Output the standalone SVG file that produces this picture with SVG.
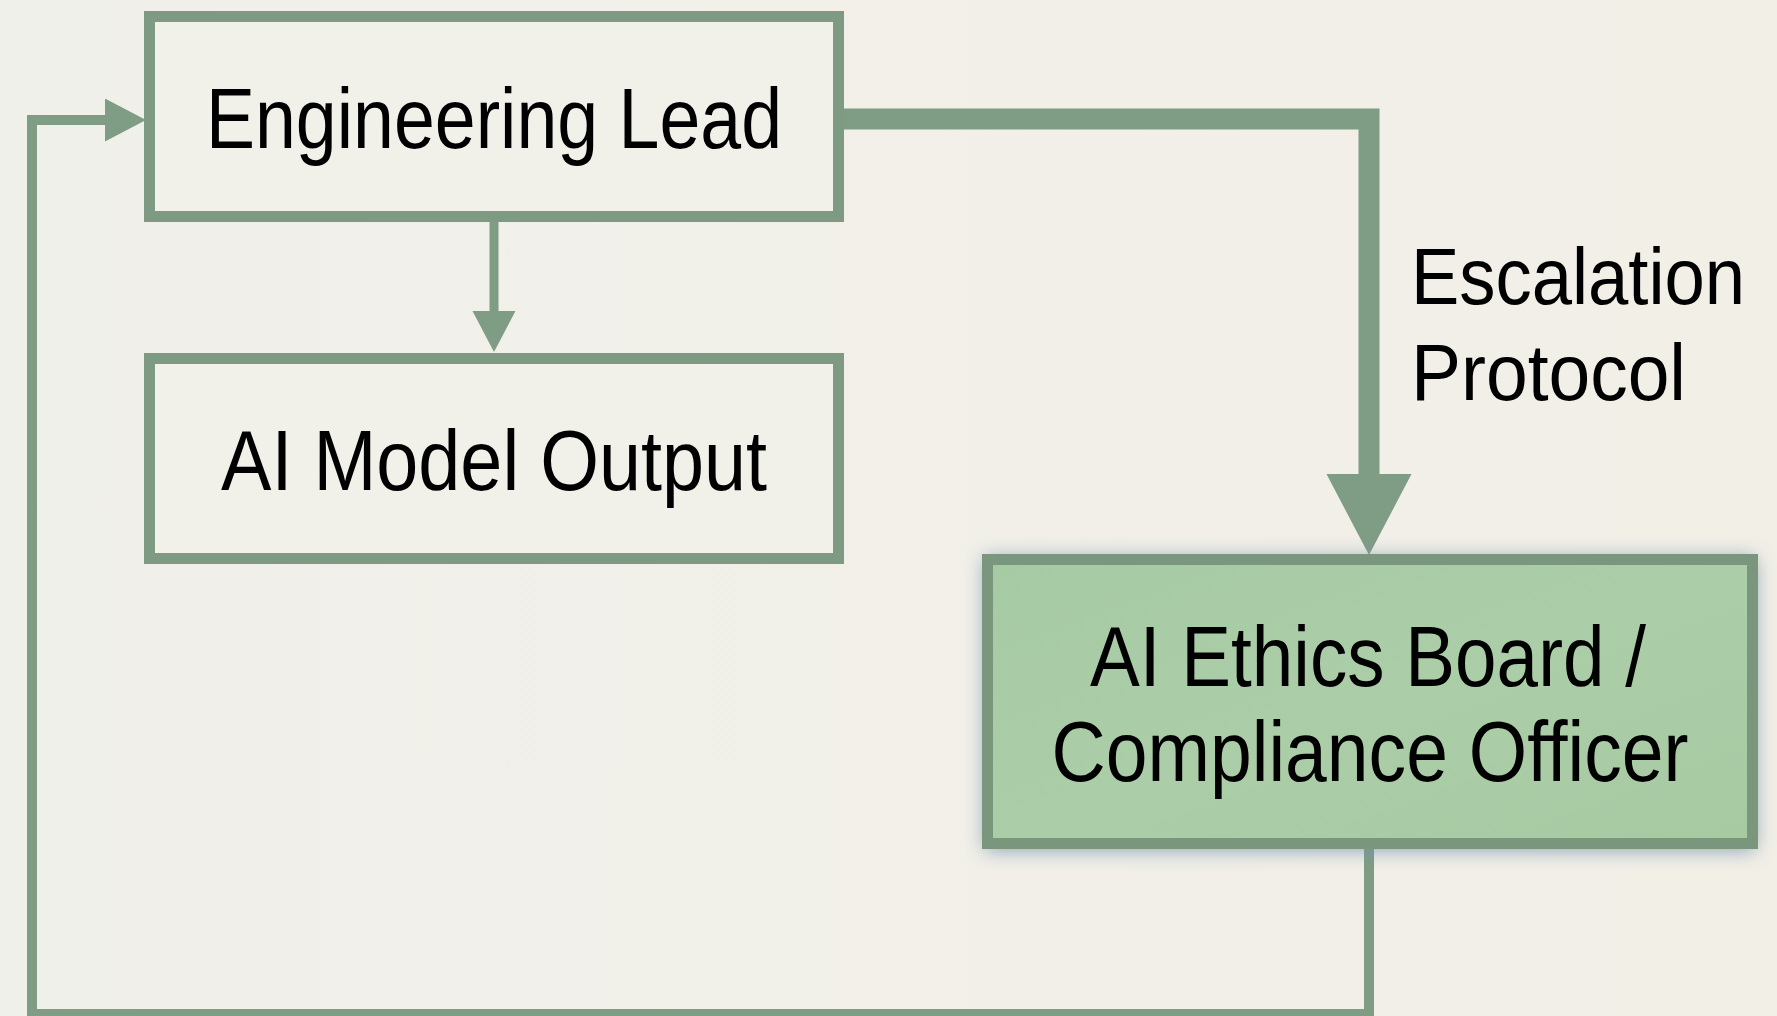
<svg xmlns="http://www.w3.org/2000/svg" width="1777" height="1016" viewBox="0 0 1777 1016">
  <style>
    .box { fill: #f1f1ea; stroke: #7f9a83; stroke-width: 11; }
    .hl { fill: url(#greenFill); stroke: #7a977e; stroke-width: 11; }
    .lbl { font-family: "Liberation Sans", Arial, sans-serif; font-size: 85px; fill: #000; }
    .elbl { font-family: "Liberation Sans", Arial, sans-serif; font-size: 80px; fill: #000; }
    .mid { text-anchor: middle; }
    .start { text-anchor: start; }
    .edge { fill: none; stroke: #7f9c84; stroke-linejoin: miter; stroke-linecap: butt; }
    .tip { fill: #7f9c84; }
  </style>
  <defs>
    <linearGradient id="bg" x1="0" y1="0" x2="1" y2="0">
      <stop offset="0" stop-color="#f0f0ea"/>
      <stop offset="1" stop-color="#f2efe7"/>
    </linearGradient>
    <linearGradient id="greenFill" x1="0" y1="0" x2="1" y2="1">
      <stop offset="0" stop-color="#a6caa3"/>
      <stop offset="0.5" stop-color="#abcea8"/>
      <stop offset="1" stop-color="#a7caa3"/>
    </linearGradient>
    <filter id="glow" x="-20%" y="-30%" width="140%" height="160%">
      <feGaussianBlur stdDeviation="10"/>
    </filter>
    <marker id="arrowBig" markerUnits="userSpaceOnUse" markerWidth="82" markerHeight="86" refX="0" refY="42.5" orient="auto">
      <path class="tip" d="M0,0 L81,42.5 L0,85 Z"/>
    </marker>
    <marker id="arrowSmall" markerUnits="userSpaceOnUse" markerWidth="42" markerHeight="44" refX="0" refY="21.5" orient="auto">
      <path class="tip" d="M0,0 L41,21.5 L0,43 Z"/>
    </marker>
  </defs>

  <rect x="0" y="0" width="1777" height="1016" fill="url(#bg)"/>

  <g id="connectors">
    <path id="edge-escalation" class="edge" stroke-width="21" d="M839,119 H1369 V474" marker-end="url(#arrowBig)"/>
    <path id="edge-output" class="edge" stroke-width="9" d="M494,222 V311" marker-end="url(#arrowSmall)"/>
    <path id="edge-feedback" class="edge" stroke-width="10" d="M1369,849 V1014 H32 V120 H105" marker-end="url(#arrowSmall)"/>
  </g>

  <g id="node-engineering-lead">
    <rect class="box" x="149.5" y="16.5" width="689" height="200"/>
    <text class="lbl mid" x="494" y="148" textLength="576" lengthAdjust="spacingAndGlyphs">Engineering Lead</text>
  </g>

  <g id="node-ai-model-output">
    <rect class="box" x="149.5" y="358.5" width="689" height="200"/>
    <text class="lbl mid" x="494" y="490" textLength="546" lengthAdjust="spacingAndGlyphs">AI Model Output</text>
  </g>

  <g id="label-escalation">
    <text class="elbl start" x="1411" y="304" textLength="334" lengthAdjust="spacingAndGlyphs">Escalation</text>
    <text class="elbl start" x="1411" y="400" textLength="275" lengthAdjust="spacingAndGlyphs">Protocol</text>
  </g>

  <g id="node-ethics-board">
    <rect x="985" y="558" width="770" height="292" fill="#7393ab" opacity="0.85" filter="url(#glow)"/>
    <rect class="hl" x="987.5" y="559.5" width="765" height="284"/>
    <text class="lbl mid" x="1368" y="686" textLength="556" lengthAdjust="spacingAndGlyphs">AI Ethics Board /</text>
    <text class="lbl mid" x="1370" y="781" textLength="637" lengthAdjust="spacingAndGlyphs">Compliance Officer</text>
  </g>
</svg>
